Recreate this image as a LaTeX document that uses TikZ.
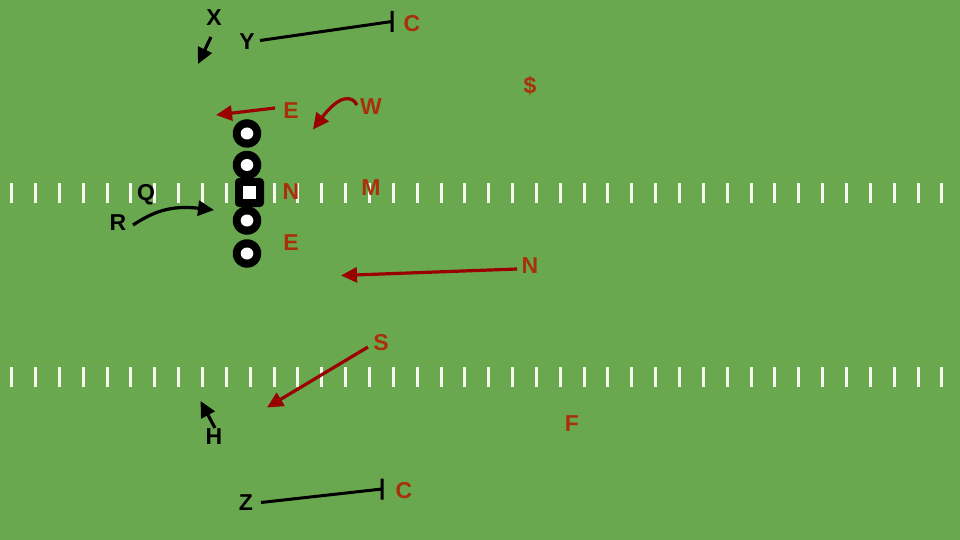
\documentclass[tikz,border=0pt]{standalone}
\usepackage{fontspec}
\setmainfont{Liberation Sans}
\newfontfamily\lblfont{Liberation Sans Bold}
\usetikzlibrary{arrows.meta}
\definecolor{field}{HTML}{6AA84F}
\definecolor{txtred}{HTML}{A8300A}
\definecolor{arrred}{HTML}{990000}
\definecolor{tickw}{HTML}{F7FBEF}
\tikzset{
  lbl/.style={font=\lblfont\fontsize{23}{23}\selectfont, inner sep=1pt},
  blbl/.style={lbl, text=black},
  rlbl/.style={lbl, text=txtred},
  yardtick/.style={draw=tickw, line width=3pt},
  mv/.style={line width=3.2pt, -{Triangle[length=16pt,width=15pt]}},
  bmv/.style={mv, draw=black},
  rmv/.style={mv, draw=arrred},
  blk/.style={line width=3pt, draw=black},
  lineman/.style={circle, fill=black, minimum size=28.5pt, inner sep=0pt},
  center/.style={rectangle, rounded corners=4pt, fill=black, minimum size=29pt, inner sep=0pt},
}
\begin{document}
\begin{tikzpicture}[x=1pt, y=-1pt]
\fill[field] (0,0) rectangle (960,540);
\useasboundingbox (0,0) rectangle (960,540);
% yard ticks
\foreach \k in {0,...,39} {
  \draw[yardtick] ({11.7+23.85*\k},183) -- ({11.7+23.85*\k},203);
  \draw[yardtick] ({11.7+23.85*\k},367) -- ({11.7+23.85*\k},387);
}
% offensive line
\node[lineman] (o1) at (247,133.5) {};
\node[lineman] (o2) at (247,165) {};
\node[center] (c0) at (249.5,192.5) {};
\node[lineman] (o4) at (247,220.5) {};
\node[lineman] (o5) at (247,253.5) {};
\foreach \n in {o1,o2,o4,o5} \fill[white] (\n.center) ellipse (6.3pt and 6pt);
\fill[white] ([shift={(-6.5pt,-6.5pt)}]c0.center) rectangle ([shift={(6.5pt,6.5pt)}]c0.center);
% labels
\node[blbl] (lX) at (214,18) {X};
\node[blbl] (lY) at (247,42) {Y};
\node[blbl] (lQ) at (146,195) {Q};
\node[blbl] (lR) at (118,223) {R};
\node[blbl] (lH) at (214,437) {H};
\node[blbl] (lZ) at (246,503) {Z};
\node[rlbl] (lC1) at (412,24) {C};
\node[rlbl] (lE1) at (291,111) {E};
\node[rlbl] (lW) at (371,107) {W};
\node[rlbl] (lD) at (530,86) {\$};
\node[rlbl] (lN1) at (291,192) {N};
\node[rlbl] (lM) at (371,188) {M};
\node[rlbl] (lE2) at (291,243) {E};
\node[rlbl] (lN2) at (530,266) {N};
\node[rlbl] (lS) at (381,343) {S};
\node[rlbl] (lF) at (572,424) {F};
\node[rlbl] (lC2) at (404,491) {C};
% coordinates for route ends
\coordinate (xs) at (211,37);   \coordinate (xe) at (198,64);
\coordinate (ys) at (260,40.5); \coordinate (ye) at (392,21.5);
\coordinate (e1s) at (275,108); \coordinate (e1e) at (216,115);
\coordinate (ws) at (357,105);  \coordinate (we) at (313,129.5);
\coordinate (rs) at (133,225);  \coordinate (re) at (214,210);
\coordinate (n2s) at (517,269); \coordinate (n2e) at (341,275.5);
\coordinate (ss) at (368,347);  \coordinate (se) at (267,407.5);
\coordinate (hs) at (215,428);  \coordinate (he) at (200.5,401);
\coordinate (zs) at (261,502.5); \coordinate (ze) at (382,489);
% routes
\draw[bmv] (xs) -- (xe);
\draw[blk] (ys) -- (ye) ++(0,-10.5) -- ++(0,21);
\draw[rmv] (e1s) -- (e1e);
\draw[rmv] (ws) .. controls (352,95) and (339,95) .. (we);
\draw[bmv] (rs) .. controls (153,212) and (170,205) .. (re);
\draw[rmv] (n2s) -- (n2e);
\draw[rmv] (ss) -- (se);
\draw[bmv] (hs) -- (he);
\draw[blk] (zs) -- (ze) ++(0,-10.5) -- ++(0,21);
\end{tikzpicture}
\end{document}
